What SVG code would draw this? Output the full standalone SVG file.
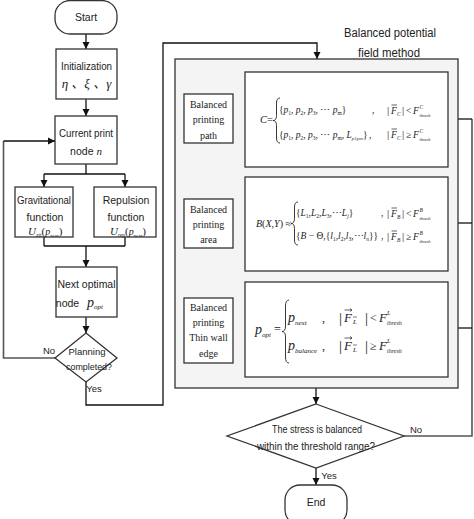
<svg xmlns="http://www.w3.org/2000/svg" width="474" height="519" viewBox="0 0 474 519" font-size="9.5">
<defs>
<marker id="ah" viewBox="0 0 10 10" refX="10" refY="5" markerWidth="7" markerHeight="8" orient="auto" markerUnits="userSpaceOnUse">
<path d="M0,0 L10,5 L0,10 z" fill="#111"/>
</marker>
<style>
.box{fill:#fff;stroke:#333;stroke-width:1.3}
.outer{fill:#f4f4f4;stroke:#333;stroke-width:1.3}
.ln{fill:none;stroke:#111;stroke-width:1.3}
.fb{fill:none;stroke:#555;stroke-width:1.6}
.arr{marker-end:url(#ah)}
.t{font-family:"Liberation Sans",Arial,sans-serif;font-size:10.5px;fill:#222;text-anchor:middle}
.s{font-family:"Liberation Serif","Times New Roman",serif;font-size:10px;fill:#222;text-anchor:middle}
.m{font-family:"Liberation Serif","Times New Roman",serif;fill:#222}
.i{font-style:italic}
.br{fill:none;stroke:#222;stroke-width:0.9}
</style>
</defs>

<g id="connectors">
<path class="ln arr" d="M86,34 V49"/>
<path class="ln arr" d="M86,99 V116"/>
<path class="ln" d="M86,164 V174 M44,174 H125"/>
<path class="ln arr" d="M44,174 V187"/>
<path class="ln arr" d="M125,174 V187"/>
<path class="ln" d="M44,237 V246 M125,237 V246 M44,246 H125"/>
<path class="ln arr" d="M86,246 V267"/>
<path class="ln arr" d="M86,317 V333"/>
<path class="fb" d="M55,358 H3.5 V141"/>
<path class="ln arr" d="M3.5,141 H55"/>
<path class="ln arr" d="M86,382 V405 H163 V43 H317 V59"/>
<path class="ln arr" d="M233,119 H245"/>
<path class="ln arr" d="M233,223 H245"/>
<path class="ln arr" d="M233,330 H245"/>
<path class="ln arr" d="M316,388 V404"/>
<path class="fb" d="M404,436 H472 V119"/>
<path class="ln arr" d="M472,119 H448"/>
<path class="ln arr" d="M472,223 H448"/>
<path class="ln arr" d="M472,328 H448"/>
<path class="ln arr" d="M316,468 V485"/>
</g>

<g id="start">
<rect class="box" x="55" y="0.5" width="62" height="33.5" rx="15"/>
<text class="t" x="86" y="21">Start</text>
</g>

<g id="init">
<rect class="box" x="56" y="49" width="61" height="50"/>
<text class="t" x="86.5" y="70" textLength="51" lengthAdjust="spacingAndGlyphs">Initialization</text>
<text x="86.5" y="88" style="font-family:'Liberation Serif','Noto Sans CJK SC',serif;font-size:13px;font-style:italic;fill:#222;text-anchor:middle">η 、ξ 、γ</text>
</g>

<g id="current">
<rect class="box" x="55" y="116" width="62" height="48"/>
<text class="t" x="86" y="137" textLength="54" lengthAdjust="spacingAndGlyphs">Current print</text>
<text class="t" x="86" y="155">node <tspan class="i" style="font-family:'Liberation Serif',serif;font-size:11px">n</tspan></text>
</g>

<g id="grav">
<rect class="box" x="15" y="187" width="58" height="50"/>
<text class="t" x="44" y="204" textLength="54" lengthAdjust="spacingAndGlyphs">Gravitational</text>
<text class="t" x="45" y="221">function</text>
<text class="m" x="28" y="235"><tspan class="i" font-size="11">U</tspan><tspan font-size="5.5" dy="2">att</tspan><tspan dy="-2" font-size="11">(</tspan><tspan class="i" font-size="10">p</tspan><tspan font-size="5" dy="2">next</tspan><tspan dy="-2" font-size="11">)</tspan></text>
</g>

<g id="rep">
<rect class="box" x="94" y="187" width="62" height="50"/>
<text class="t" x="126" y="204">Repulsion</text>
<text class="t" x="126" y="221">function</text>
<text class="m" x="110" y="235"><tspan class="i" font-size="11">U</tspan><tspan font-size="5.5" dy="2">rep</tspan><tspan dy="-2" font-size="11">(</tspan><tspan class="i" font-size="10">p</tspan><tspan font-size="5" dy="2">next</tspan><tspan dy="-2" font-size="11">)</tspan></text>
</g>

<g id="next">
<rect class="box" x="56" y="267" width="61" height="50"/>
<text class="t" x="86.5" y="288" textLength="58" lengthAdjust="spacingAndGlyphs">Next optimal</text>
<text class="t" x="67.5" y="307">node</text>
<text class="m" x="87" y="307"><tspan class="i" font-size="14">p</tspan><tspan class="i" font-size="7" dy="2">opt</tspan></text>
</g>

<g id="planning">
<polygon class="box" points="86,333 117,358 86,382 55,358"/>
<text class="t" x="87" y="355" style="font-size:9.5px">Planning</text>
<text class="t" x="89" y="370" style="font-size:9.5px" textLength="46" lengthAdjust="spacingAndGlyphs">completed?</text>
<text class="t" x="49" y="354" style="font-size:9.5px">No</text>
<text class="t" x="94" y="392" style="font-size:9.5px">Yes</text>
</g>

<g id="bpfm">
<rect class="outer" x="175" y="59" width="283" height="329"/>
<text class="t" x="390" y="37" style="font-size:12px" textLength="92" lengthAdjust="spacingAndGlyphs">Balanced potential</text>
<text class="t" x="389" y="57" style="font-size:12px" textLength="62" lengthAdjust="spacingAndGlyphs">field method</text>
</g>

<g id="path-label">
<rect class="box" x="184" y="94" width="49" height="49"/>
<text class="s" x="208.5" y="108">Balanced</text>
<text class="s" x="208.5" y="123">printing</text>
<text class="s" x="208.5" y="139">path</text>
</g>

<g id="path-formula">
<rect class="box" x="245" y="72" width="203" height="95"/>
<text class="m i" x="260" y="123" font-size="10.5">C<tspan font-style="normal">=</tspan></text>
<path class="br" d="M280,98 Q276.5,98 276.5,103 L276.5,115.5 Q276.5,120.5 273,120.5 Q276.5,120.5 276.5,125.5 L276.5,138 Q276.5,143 280,143"/>
<text class="m" x="279" y="113">{<tspan class="i">p</tspan><tspan font-size="5.5" dy="2">1</tspan><tspan dy="-2">, </tspan><tspan class="i">p</tspan><tspan font-size="5.5" dy="2">2</tspan><tspan dy="-2">, </tspan><tspan class="i">p</tspan><tspan font-size="5.5" dy="2">3</tspan><tspan dy="-2">, ⋯ </tspan><tspan class="i">p</tspan><tspan font-size="5.5" dy="2">m</tspan><tspan dy="-2">}</tspan></text>
<text class="m" x="279" y="138">{<tspan class="i">p</tspan><tspan font-size="5.5" dy="2">1</tspan><tspan dy="-2">, </tspan><tspan class="i">p</tspan><tspan font-size="5.5" dy="2">2</tspan><tspan dy="-2">, </tspan><tspan class="i">p</tspan><tspan font-size="5.5" dy="2">3</tspan><tspan dy="-2">, ⋯ </tspan><tspan class="i">p</tspan><tspan font-size="5.5" dy="2">m</tspan><tspan dy="-2">, </tspan><tspan class="i">L</tspan><tspan class="i" font-size="5" dy="2">p1pm</tspan><tspan dy="-2">}</tspan></text>
<text class="m" x="372" y="113">,</text>
<text class="m" x="369" y="138">,</text>
<text class="m" x="387" y="114" font-size="11">|</text>
<text class="m i" x="391" y="114">F</text>
<path d="M391.5,105 H397" stroke="#222" stroke-width="0.7"/>
<text class="m i" x="397" y="116" font-size="5.5">C</text>
<text class="m" x="402" y="114" font-size="11">|</text>
<text class="m" x="406" y="114">&lt;</text>
<text class="m i" x="413" y="114">F</text>
<text class="m i" x="419.5" y="109" font-size="5.5">C</text>
<text class="m i" x="419.5" y="117" font-size="4.5">thresh</text>
<text class="m" x="387" y="138" font-size="11">|</text>
<text class="m i" x="391" y="138">F</text>
<path d="M391.5,129 H397" stroke="#222" stroke-width="0.7"/>
<text class="m i" x="397" y="140" font-size="5.5">C</text>
<text class="m" x="402" y="138" font-size="11">|</text>
<text class="m" x="406" y="138">≥</text>
<text class="m i" x="413" y="138">F</text>
<text class="m i" x="419.5" y="133" font-size="5.5">C</text>
<text class="m i" x="419.5" y="141" font-size="4.5">thresh</text>
</g>

<g id="area-label">
<rect class="box" x="184" y="199" width="49" height="49"/>
<text class="s" x="208.5" y="213">Balanced</text>
<text class="s" x="208.5" y="228">printing</text>
<text class="s" x="208.5" y="243">area</text>
</g>

<g id="area-formula">
<rect class="box" x="245" y="177" width="203" height="94"/>
<text class="m" x="256" y="227" font-size="10"><tspan class="i">B</tspan>(<tspan class="i">X</tspan>,<tspan class="i">Y</tspan>) ≈</text>
<path class="br" d="M298,202 Q294.5,202 294.5,207 L294.5,218.5 Q294.5,223.5 291,223.5 Q294.5,223.5 294.5,228.5 L294.5,240 Q294.5,245 298,245"/>
<text class="m" x="296" y="216">{<tspan class="i">L</tspan><tspan font-size="5.5" dy="2">1</tspan><tspan dy="-2">,</tspan><tspan class="i">L</tspan><tspan font-size="5.5" dy="2">2</tspan><tspan dy="-2">,</tspan><tspan class="i">L</tspan><tspan font-size="5.5" dy="2">3</tspan><tspan dy="-2">,⋯</tspan><tspan class="i">L</tspan><tspan class="i" font-size="5.5" dy="2">j</tspan><tspan dy="-2">}</tspan></text>
<text class="m" x="296" y="239">{<tspan class="i">B</tspan> − Θ,{<tspan class="i">l</tspan><tspan font-size="5.5" dy="2">1</tspan><tspan dy="-2">,</tspan><tspan class="i">l</tspan><tspan font-size="5.5" dy="2">2</tspan><tspan dy="-2">,</tspan><tspan class="i">l</tspan><tspan font-size="5.5" dy="2">3</tspan><tspan dy="-2">,⋯</tspan><tspan class="i">l</tspan><tspan class="i" font-size="5.5" dy="2">n</tspan><tspan dy="-2">}}</tspan></text>
<text class="m" x="381" y="216">,</text>
<text class="m" x="381" y="239">,</text>
<text class="m" x="387" y="217" font-size="11">|</text>
<text class="m i" x="391" y="217">F</text>
<path d="M391.5,208 H397" stroke="#222" stroke-width="0.7"/>
<text class="m i" x="397" y="219" font-size="5.5">B</text>
<text class="m" x="402" y="217" font-size="11">|</text>
<text class="m" x="406" y="217">&lt;</text>
<text class="m i" x="413" y="217">F</text>
<text class="m i" x="419.5" y="212" font-size="5.5">B</text>
<text class="m i" x="419.5" y="220" font-size="4.5">thresh</text>
<text class="m" x="387" y="240" font-size="11">|</text>
<text class="m i" x="391" y="240">F</text>
<path d="M391.5,231 H397" stroke="#222" stroke-width="0.7"/>
<text class="m i" x="397" y="242" font-size="5.5">B</text>
<text class="m" x="402" y="240" font-size="11">|</text>
<text class="m" x="406" y="240">≥</text>
<text class="m i" x="413" y="240">F</text>
<text class="m i" x="419.5" y="235" font-size="5.5">B</text>
<text class="m i" x="419.5" y="243" font-size="4.5">thresh</text>
</g>

<g id="edge-label">
<rect class="box" x="184" y="298" width="49" height="65"/>
<text class="s" x="208.5" y="311">Balanced</text>
<text class="s" x="208.5" y="326">printing</text>
<text class="s" x="208.5" y="341">Thin wall</text>
<text class="s" x="208.5" y="357">edge</text>
</g>

<g id="edge-formula">
<rect class="box" x="245" y="282" width="203" height="95"/>
<text class="m i" x="255" y="334" font-size="14">p</text>
<text class="m i" x="262" y="337" font-size="7">opt</text>
<text class="m" x="274" y="333" font-size="12">=</text>
<path class="br" d="M289,300 Q285.5,300 285.5,306 L285.5,326 Q285.5,331.5 282,331.5 Q285.5,331.5 285.5,337 L285.5,357 Q285.5,363 289,363"/>
<text class="m i" x="288" y="322" font-size="14">p</text>
<text class="m i" x="295" y="325" font-size="7">next</text>
<text class="m" x="322" y="322" font-size="12">,</text>
<text class="m" x="339" y="323" font-size="15">|</text>
<text class="m i" x="344" y="322" font-size="13">F</text>
<path d="M344.5,310 H352 M350,308.5 L352,310 L350,311.5" stroke="#222" stroke-width="0.7" fill="none"/>
<text class="m i" x="353" y="324" font-size="7">L</text>
<path d="M353,317 H357" stroke="#222" stroke-width="0.6"/>
<text class="m" x="365" y="323" font-size="15">|</text>
<text class="m" x="370" y="322" font-size="12">&lt;</text>
<text class="m i" x="379" y="322" font-size="13">F</text>
<text class="m i" x="387" y="315" font-size="6.5">L</text>
<text class="m i" x="387" y="325" font-size="6">thresh</text>
<text class="m i" x="288" y="350" font-size="14">p</text>
<text class="m i" x="295" y="353" font-size="7">balance</text>
<text class="m" x="322" y="350" font-size="12">,</text>
<text class="m" x="339" y="351" font-size="15">|</text>
<text class="m i" x="344" y="350" font-size="13">F</text>
<path d="M344.5,338 H352 M350,336.5 L352,338 L350,339.5" stroke="#222" stroke-width="0.7" fill="none"/>
<text class="m i" x="353" y="352" font-size="7">L</text>
<path d="M353,345 H357" stroke="#222" stroke-width="0.6"/>
<text class="m" x="365" y="351" font-size="15">|</text>
<text class="m" x="370" y="350" font-size="12">≥</text>
<text class="m i" x="379" y="350" font-size="13">F</text>
<text class="m i" x="387" y="343" font-size="6.5">L</text>
<text class="m i" x="387" y="353" font-size="6">thresh</text>
</g>

<g id="stress">
<polygon class="box" points="316,404 404,436 316,468 227,436"/>
<text class="t" x="317" y="433" textLength="90" lengthAdjust="spacingAndGlyphs">The stress is balanced</text>
<text class="t" x="316" y="450" textLength="118" lengthAdjust="spacingAndGlyphs">within the threshold range?</text>
<text class="t" x="416" y="433" style="font-size:9.5px">No</text>
<text class="t" x="329" y="479" style="font-size:9.5px">Yes</text>
</g>

<g id="end">
<rect class="box" x="285" y="485" width="62" height="40" rx="15"/>
<text class="t" x="316" y="506">End</text>
</g>
</svg>
